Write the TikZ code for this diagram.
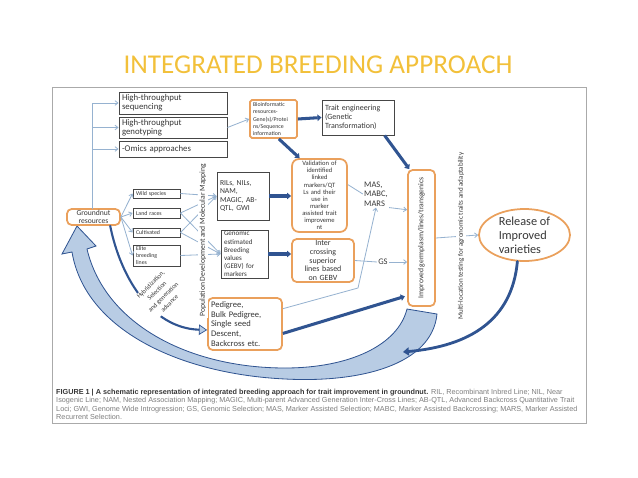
\documentclass[tikz,border=0pt]{standalone}
\usepackage{fontspec}
\setmainfont{Carlito}
\setsansfont{Carlito}
\newfontfamily\capfont{Liberation Sans}
\usetikzlibrary{arrows.meta,shapes.geometric}

\definecolor{titlegold}{RGB}{242,192,58}
\definecolor{boxorange}{RGB}{234,160,92}
\definecolor{boxgray}{RGB}{70,70,70}
\definecolor{txtgray}{RGB}{55,55,55}
\definecolor{arrownavy}{RGB}{48,84,145}
\definecolor{lineblue}{RGB}{150,178,208}
\definecolor{bandfill}{RGB}{184,204,228}
\definecolor{framegray}{RGB}{170,170,170}
\definecolor{capgray}{RGB}{125,125,125}

\newcommand{\fs}[2]{\fontsize{#1}{#2}\selectfont}

\begin{document}
\begin{tikzpicture}[
  x=0.03cm, y=-0.03cm,
  blkbox/.style 2 args={rectangle, draw=boxgray, line width=0.8pt, fill=white,
    text=txtgray, align=left, inner xsep=3*0.03cm, inner ysep=0pt,
    text width=(#1-6)*0.03cm, minimum height=#2*0.03cm},
  orgbox/.style 2 args={rectangle, rounded corners=4pt, draw=boxorange,
    line width=1.5pt, fill=white, text=txtgray, inner xsep=3*0.03cm,
    inner ysep=0pt, text width=(#1-6)*0.03cm, minimum height=#2*0.03cm},
  plain/.style={text=txtgray, inner sep=1pt},
  thickarr/.style={-{Triangle[length=3.5pt,width=5.5pt]}, draw=arrownavy,
    line width=2.6pt},
  lightarr/.style={-{Straight Barb[length=2.5pt,width=4pt]}, draw=lineblue,
    line width=0.7pt},
  lightln/.style={draw=lineblue, line width=0.7pt}
]
\useasboundingbox (0,0) rectangle (638,478);

% title and frame
\node[text=titlegold, font=\fs{23.2}{26}] (title) at (318,65) {INTEGRATED BREEDING APPROACH};
\draw[framegray, line width=0.8pt] (52,87) rectangle (586,423);

% big return band
\draw[arrownavy, line width=0.7pt, fill=bandfill]
  (407,309) -- (437,314) .. controls (432,365) and (360,383) .. (285,379)
  .. controls (180,374) and (85,330) .. (72,252) -- (62,254) -- (77,226)
  -- (96,246) -- (87,249) .. controls (105,325) and (190,368) .. (285,368)
  .. controls (350,368) and (398,345) .. (407,309) -- cycle;

% omics side
\node[blkbox={108}{22}, font=\fs{7.5}{8}] (seq) at (173,103) {High-throughput\\sequencing};
\node[blkbox={108}{21}, font=\fs{7.5}{8}] (geno) at (173,127.5) {High-throughput\\genotyping};
\node[blkbox={108}{16}, font=\fs{7.5}{8}] (omics) at (173,149) {-Omics approaches};
\node[orgbox={47}{38}, rounded corners=1.5pt, align=left, font=\fs{5}{6}] (bioinf) at (273.5,119)
  {Bioinformatic\\resources-\\Gene(s)/Protei\\ns/Sequence\\information};
\node[blkbox={72}{35}, font=\fs{6.8}{7.6}] (trait) at (358,117.5) {Trait engineering\\(Genetic\\Transformation)};
\node[orgbox={55}{73}, rounded corners=6pt, align=center, font=\fs{5.6}{6.1}] (valid) at (319.5,195.5)
  {Validation of\\identified\\linked\\markers/QT\\Ls and their\\use in\\marker\\assisted trait\\improveme\\nt};

% resources
\node[orgbox={53}{16}, align=center, font=\fs{6.5}{7}] (ground) at (93.5,217) {Groundnut\\resources};
\node[blkbox={47}{9}, font=\fs{5}{6}] (wild) at (156.5,193.5) {Wild species};
\node[blkbox={47}{10}, font=\fs{5}{6}] (land) at (156.5,213) {Land races};
\node[blkbox={47}{9}, font=\fs{5}{6}] (cult) at (156.5,232.5) {Cultivated};
\node[blkbox={47}{21}, font=\fs{5}{6}] (elite) at (156.5,255.5) {Elite\\breeding\\lines};

\node[blkbox={52}{48}, font=\fs{6.5}{7.2}] (rils) at (243,196) {RILs, NILs,\\NAM,\\MAGIC, AB-\\QTL, GWI};
\node[blkbox={47}{48}, font=\fs{6}{7}] (genomic) at (244.5,254) {Genomic\\estimated\\Breeding\\values\\(GEBV) for\\markers};
\node[orgbox={62}{43}, align=center, font=\fs{6.8}{7.3}] (inter) at (323,260.5) {Inter\\crossing\\superior\\lines based\\on GEBV};
\node[orgbox={74}{52}, align=left, font=\fs{7.3}{8.2}] (pedigree) at (245,324)
  {Pedigree,\\Bulk Pedigree,\\Single seed\\Descent,\\Backcross etc.};

\node[plain, align=left, font=\fs{7.3}{8}] (mas) at (376,194) {MAS,\\MABC,\\MARS};
\node[plain, font=\fs{7.3}{8}] (gs) at (383,262) {GS};

\node[rectangle, rounded corners=4pt, draw=boxorange, line width=1.5pt, fill=white,
  minimum width=27*0.03cm, minimum height=136*0.03cm] (improved) at (421.5,238) {};
\node[plain, rotate=90, font=\fs{6.5}{7}] (impLabel) at (improved.center) {Improved germplasm/lines/transgenics};

\node[ellipse, draw=boxorange, line width=1.5pt, fill=white, text=txtgray, align=left,
  minimum width=91*0.03cm, minimum height=52*0.03cm, inner sep=0pt, font=\fs{10.5}{12}]
  (release) at (524.5,235) {Release of\\Improved\\varieties};

% connectors
\draw[lightln] (92,104) -- (92,209);
\foreach \b in {seq,geno,omics}
  \draw[lightarr] (92,0 |- \b.west) -- (\b.west);
\draw[lightarr] (geno.east) -- (bioinf.west);
\draw[thickarr] (bioinf.east) -- (trait.west);
\draw[thickarr] (bioinf.-75) -- (valid.118);
\draw[thickarr] (trait.-34) -- (improved.100);

\foreach \r in {wild,land,cult,elite}
  \draw[lightarr] (ground.east) -- (\r.west);
\foreach \r in {wild,land,cult}
  \draw[lightarr] (\r.east) -- (rils.west);
\foreach \r in {land,cult,elite}
  \draw[lightarr] (\r.east) -- (genomic.west);
\node[plain, rotate=90, fill=white, inner sep=1.5pt, font=\fs{6.5}{7}] (poplabel) at (203,240)
  {Population Development and Molecular Mapping};

\draw[thickarr] (rils.east) -- (valid.west |- rils.east);
\draw[thickarr] (genomic.east) -- (inter.west |- genomic.east);
\draw[lightln] (valid.21) -- (mas.west);
\draw[lightarr] (mas.south east) -- (improved.117);
\draw[lightln] (inter.east) -- (gs.west);
\draw[lightarr] (gs.east) -- (improved.west |- gs.east);
\draw[lightarr] (pedigree.22) -- (358,288) -- (mas.south);
\draw[thickarr, shorten >=2pt] (pedigree.-14) -- (improved.-104);

\draw[lightarr] (improved.east) -- (release.west);
\node[plain, rotate=90, fill=white, inner sep=1.5pt, font=\fs{6}{7}] (multi) at (461,236)
  {Multi-location testing for agronomic traits and adaptability};

% curved arrows
\coordinate (bandin) at (403,352);
\draw[arrownavy, line width=2.4pt, line cap=round, -{Triangle[length=5pt,width=7pt]}]
  (release.255) .. controls (512,320) and (470,346) .. (bandin);
\draw[arrownavy, line width=1.8pt, line cap=round,
  -{Triangle[length=7pt,width=9pt,fill=bandfill,line width=0.6pt]}]
  (ground.-28) .. controls (120,275) and (150,328) .. (pedigree.west |- 0,330);
\node[plain, rotate=45, align=center, fill=white, inner sep=0.5pt, font=\fs{5.5}{7.6}] (hybrid) at (160,294)
  {Hybridization,\\Selection\\and generation\\advance};

% caption
\node[anchor=north west, align=left, inner sep=0pt, text=capgray, font=\capfont\fs{6.2}{7.1}] (caption) at (56,389)
  {\textcolor{txtgray}{\textbf{FIGURE 1 | A schematic representation of integrated breeding approach for trait improvement in groundnut.}} RIL, Recombinant Inbred Line; NIL, Near\\
   Isogenic Line; NAM, Nested Association Mapping; MAGIC, Multi-parent Advanced Generation Inter-Cross Lines; AB-QTL, Advanced Backcross Quantitative Trait\\
   Loci; GWI, Genome Wide Introgression; GS, Genomic Selection; MAS, Marker Assisted Selection; MABC, Marker Assisted Backcrossing; MARS, Marker Assisted\\
   Recurrent Selection.};
\end{tikzpicture}
\end{document}
